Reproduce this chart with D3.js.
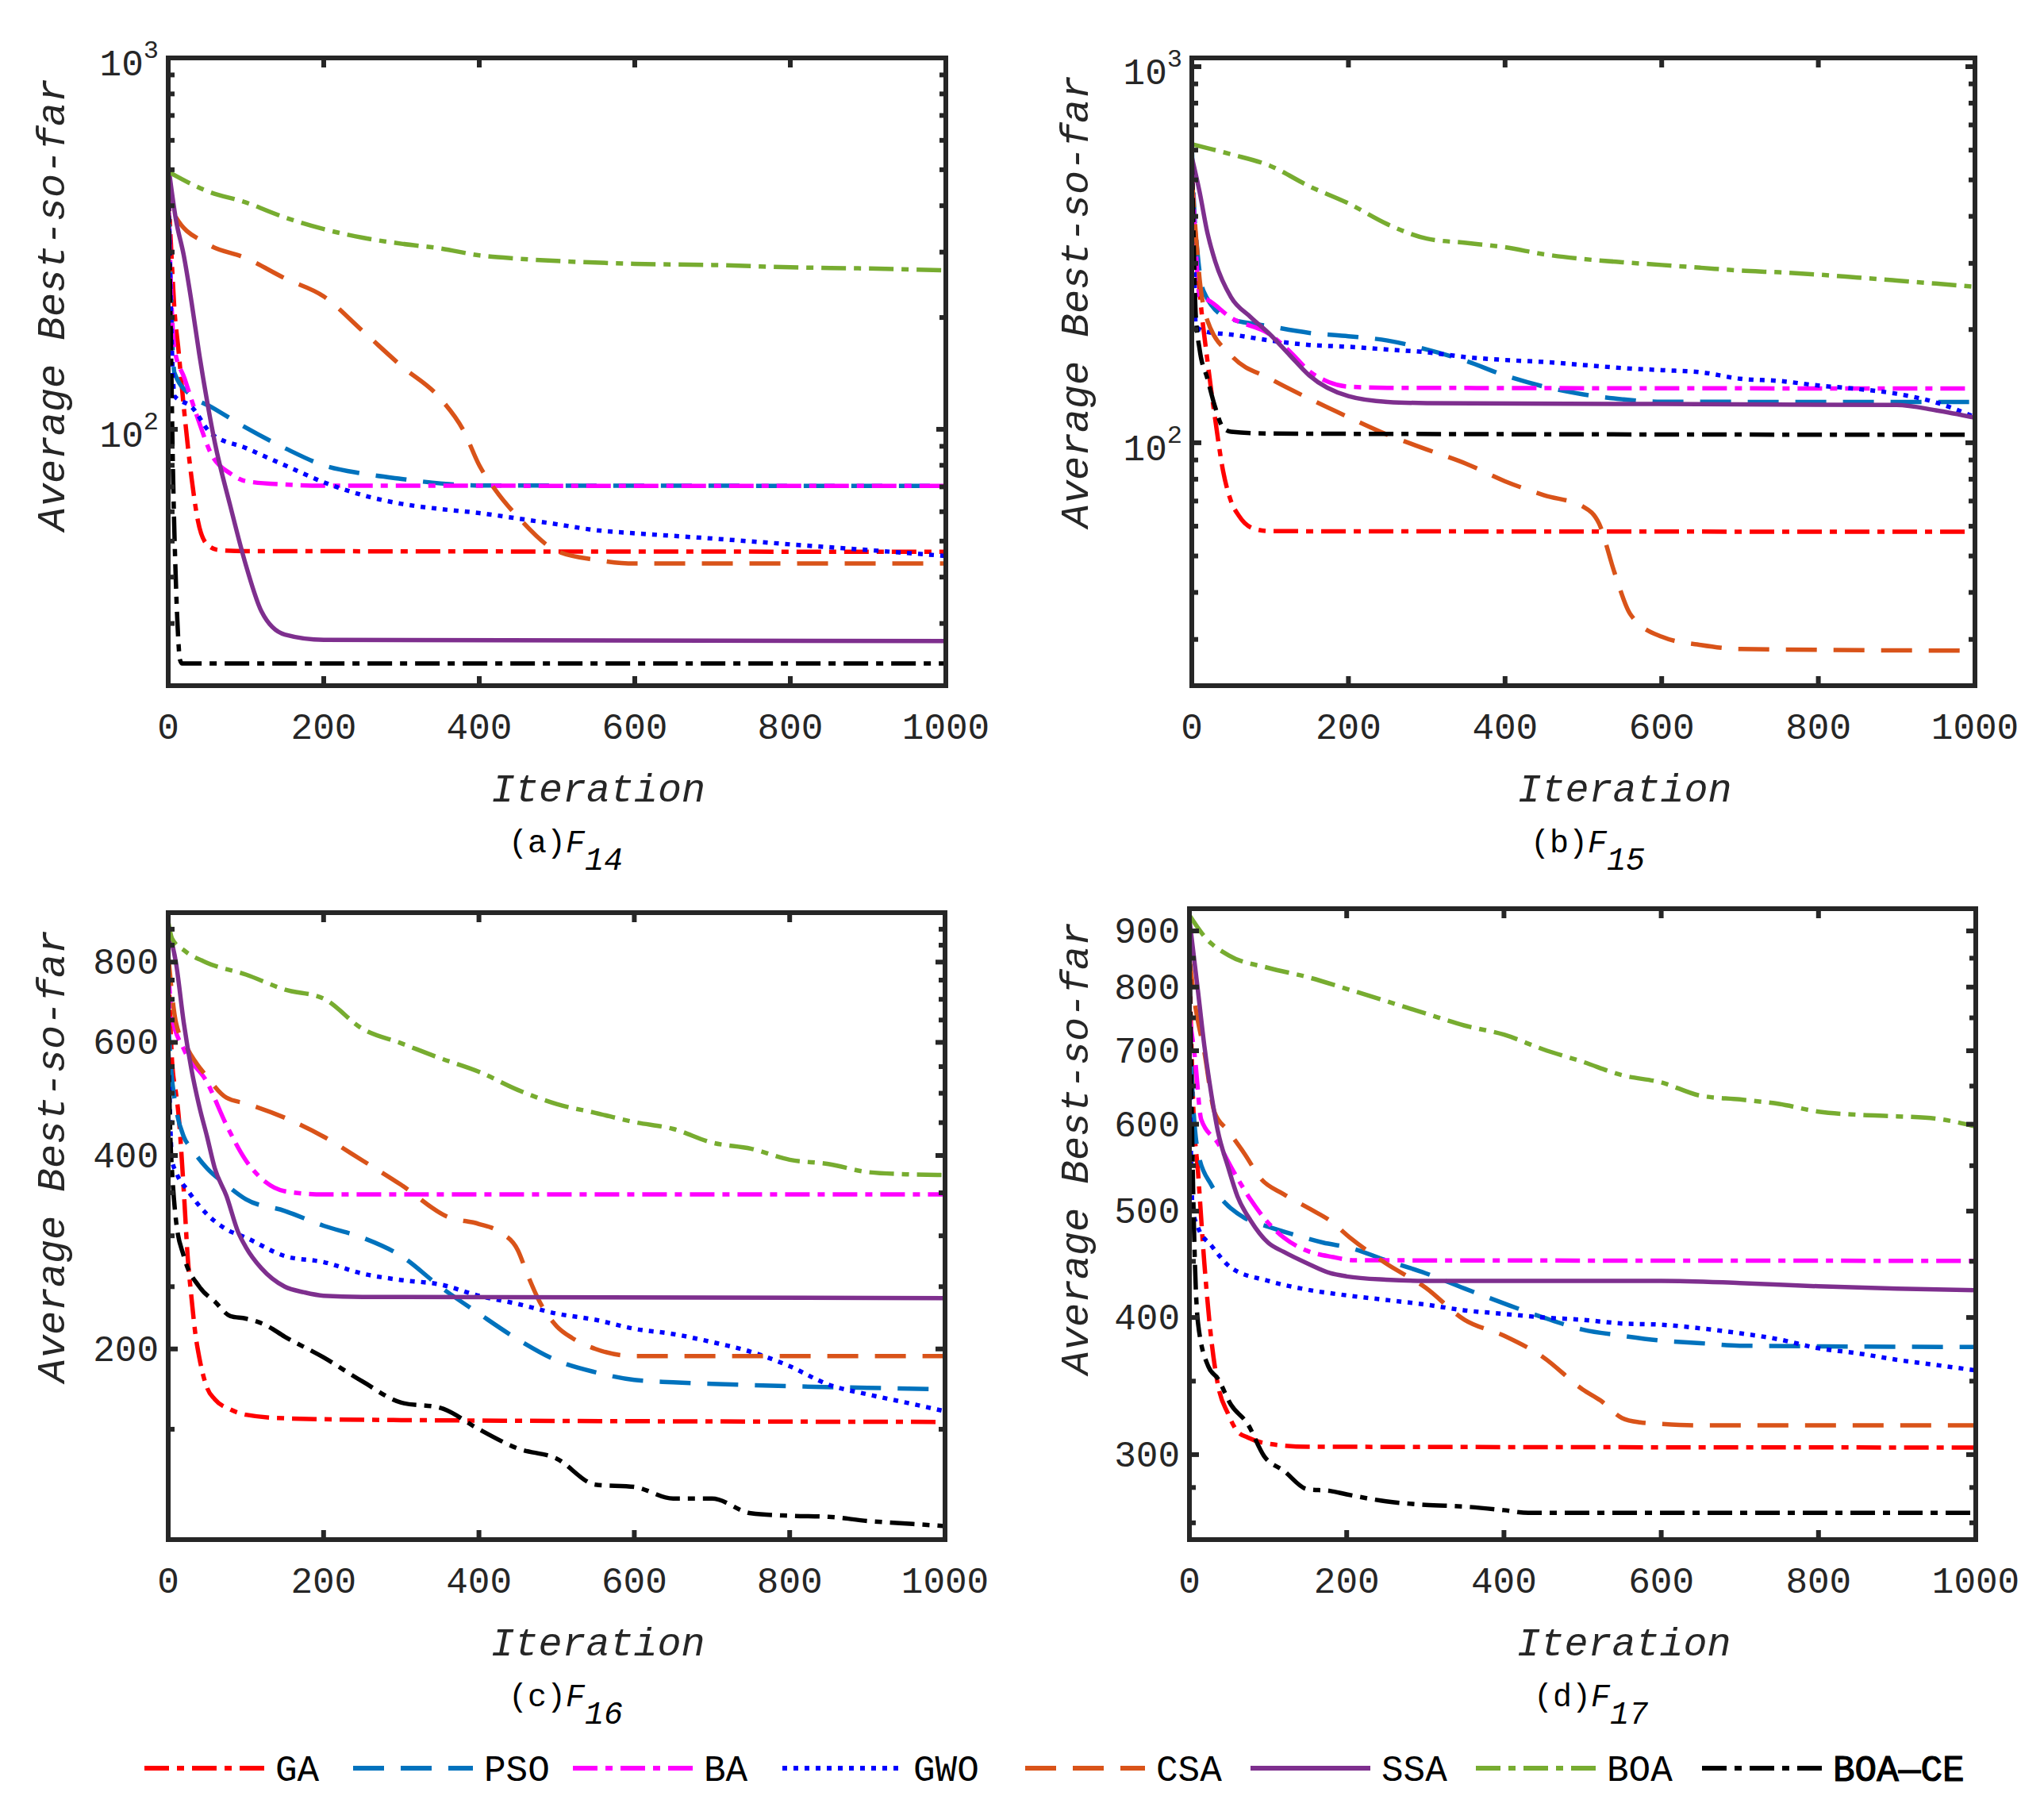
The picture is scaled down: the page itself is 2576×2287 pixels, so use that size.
<!DOCTYPE html>
<html>
<head>
<meta charset="utf-8">
<script src="https://cdn.jsdelivr.net/npm/d3@7"></script>
<style>
  body { margin: 0; background: #fff; }
  text { font-family: "Liberation Mono", "DejaVu Sans Mono", monospace; }
</style>
</head>
<body>
<svg id="chart" width="2576" height="2287"></svg>
<script>
// ---------- data (iteration, average best-so-far) ----------
var NAMES = ["GA", "PSO", "BA", "GWO", "CSA", "SSA", "BOA", "BOA\u2014CE"];
var X_TICKS = [0, 200, 400, 600, 800, 1000];

// F14
var F14_GA  = [[0,450],[4,300],[8,210],[13,165],[20,115],[30,74],[38,57],[50,49],[65,47.3],[100,47],[1000,46.8]];
var F14_PSO = [[0,480],[3,250],[8,142],[30,123],[55,115],[100,101],[150,89],[200,80],[250,76],[300,73.5],[350,71.5],[400,70.6],[1000,70.4]];
var F14_BA  = [[0,470],[3,260],[8,165],[21,137],[38,107],[55,86],[80,76],[100,72.5],[150,71],[200,70.5],[1000,70.4]];
var F14_GWO = [[0,490],[3,230],[8,123],[30,115],[55,97.5],[100,89],[150,80],[200,72],[250,66.5],[300,63],[350,61],[400,59.5],[450,57.5],[500,55.5],[550,53.5],[600,52.5],[700,50.8],[800,49],[900,47.3],[1000,45.6]];
var F14_CSA = [[0,500],[10,372],[50,316],[100,289],[150,255],[200,228],[250,184],[300,148],[350,121],[380,99],[400,80],[420,69],[450,58],[500,47],[550,44.5],[600,43.5],[1000,43.5]];
var F14_SSA = [[0,516],[10,366],[20,294],[30,220],[40,159],[50,119],[60,92],[80,62],[100,43],[120,32.3],[150,28],[200,27.1],[1000,26.9]];
var F14_BOA = [[0,494],[50,438],[100,408],[150,372],[200,346],[250,328],[300,316],[350,307],[400,294],[450,288],[500,284],[600,279],[700,277],[800,273],[900,271],[1000,268]];
var F14_BOACE = [[0,460],[3,200],[6,80],[10,38],[13,27],[15,24],[18,23.4],[1000,23.4]];

// F15
var F15_GA  = [[0,500],[5,350],[10,253],[20,165],[30,115],[40,84],[50,70],[60,64],[80,59],[100,58.2],[1000,58]];
var F15_PSO = [[0,620],[3,420],[7,325],[15,253],[45,215],[100,204],[150,196],[200,192],[250,187],[300,177],[350,165],[400,151],[450,141],[500,134.5],[550,130.5],[600,128.5],[1000,128.4]];
var F15_BA  = [[0,560],[5,330],[10,245],[20,240],[50,215],[100,194],[125,175],[150,155],[175,145],[200,141],[250,140],[1000,139.4]];
var F15_GWO = [[0,600],[3,300],[5,204],[20,197],[50,194],[100,187],[150,182],[200,180],[250,177],[300,174],[350,169],[400,166],[450,164],[500,161],[550,158],[600,156],[650,154],[700,148],[750,146],[800,142],[850,139],[900,135],[950,128],[1000,117]];
var F15_CSA = [[0,510],[5,362],[10,272],[20,211],[50,171],[100,148],[150,131],[200,117],[250,105],[300,96],[350,88],[400,79],[450,72.5],[500,67.6],[520,61],[540,45],[560,35],[600,30.5],[650,29],[700,28.3],[1000,28]];
var F15_SSA = [[0,575],[10,464],[20,361],[30,303],[50,244],[75,216],[100,194],[125,171],[150,151],[200,133],[250,128.4],[300,127.5],[900,126],[950,122],[1000,116.6]];
var F15_BOA = [[0,622],[50,585],[100,545],[150,481],[200,433],[250,381],[300,349],[350,340],[400,331],[450,317],[500,308],[550,302],[600,297],[650,292],[700,287],[750,284],[800,280],[850,275],[900,270],[950,265],[1000,260]];
var F15_BOACE = [[0,600],[3,302],[5,219],[10,177],[20,148],[30,124],[40,109.6],[50,107],[100,105.8],[1000,105]];

// F16
var F16_GA  = [[0,800],[5,560],[10,500],[13,467],[20,353],[25,279],[30,240],[35,211],[40,194],[50,174],[60,167],[80,161],[100,158],[150,156],[300,155],[1000,154]];
var F16_PSO = [[0,650],[3,560],[10,475],[20,428],[30,410],[50,382],[75,360],[100,342],[150,328],[200,311],[250,298],[300,279],[350,250],[400,227],[450,207],[500,192],[550,184],[600,179],[650,177.5],[700,176.5],[800,175],[900,174],[1000,173]];
var F16_BA  = [[0,780],[5,657],[20,586],[50,520],[75,446],[100,393],[125,364],[150,352],[200,348],[1000,348]];
var F16_GWO = [[0,600],[5,393],[10,377],[25,353],[50,324],[75,307],[100,298],[150,279],[200,273],[250,262],[300,256],[350,252],[400,242],[450,235],[500,227],[550,222],[600,215],[650,211],[700,205],[750,198],[800,188],[850,176],[900,170],[950,165],[1000,160]];
var F16_CSA = [[0,820],[10,644],[25,586],[50,530],[75,492],[100,482],[150,458],[200,428],[250,393],[300,360],[360,321],[400,313],[427,304],[450,285],[462,262],[478,237],[500,217],[520,208],[550,200],[600,195],[1000,195]];
var F16_SSA = [[0,900],[10,798],[20,644],[30,544],[40,477],[50,428],[60,382],[75,346],[90,304],[100,288],[120,267],[150,250],[175,245],[200,242],[250,241],[1000,240]];
var F16_BOA = [[0,925],[5,870],[20,835],[50,798],[100,765],[150,725],[200,702],[250,630],[300,598],[350,567],[400,540],[450,506],[500,481],[550,466],[600,451],[650,440],[700,419],[750,410],[800,394],[850,388],[900,377],[950,374],[1000,373]];
var F16_BOACE = [[0,600],[3,420],[5,377],[10,317],[20,279],[40,250],[60,237],[80,225],[100,223],[125,218],[150,209],[200,194],[250,178],[300,165],[350,162],[400,150],[450,140],[500,135],[550,123],[600,122],[650,117],[700,117],[750,111],[800,110],[850,109.6],[900,108],[950,107],[1000,106]];

// F17
var F17_GA  = [[0,840],[5,620],[11,542],[19,448],[28,381],[36,348],[49,327],[61,315],[74,311],[99,307],[150,305],[1000,304.5]];
var F17_PSO = [[0,750],[4,640],[11,565],[28,528],[45,509],[70,493],[100,484],[137,475],[170,468],[204,463],[250,451],[300,439],[350,425],[400,412],[450,400],[500,390],[550,385],[600,381],[650,379],[700,377],[1000,376]];
var F17_BA  = [[0,750],[7,690],[15,606],[36,577],[57,542],[78,512],[99,489],[120,473],[150,460],[183,454],[210,451],[1000,450.5]];
var F17_GWO = [[0,700],[4,503],[11,483],[28,465],[53,444],[100,432],[150,424],[200,419],[250,415],[300,411],[350,406],[400,403],[450,400],[500,398],[550,395],[600,394],[650,391],[700,387],[750,382],[800,375],[850,371],[900,366],[950,362],[1000,358]];
var F17_CSA = [[0,850],[7,773],[19,698],[32,615],[49,592],[70,564],[91,535],[120,518],[154,502],[179,490],[204,473],[250,448],[300,426],[350,398],[400,385],[450,368],[500,344],[523,336],[550,324],[573,321],[600,320],[650,319],[1000,319]];
var F17_SSA = [[0,922],[11,792],[19,707],[28,638],[36,592],[49,549],[61,516],[78,490],[100,468],[120,459],[150,448],[179,439],[200,436],[250,433],[300,432],[600,432],[700,430],[800,427],[900,425],[1000,423.5]];
var F17_BOA = [[0,930],[20,888],[50,855],[100,833],[150,817],[200,797],[250,777],[300,757],[350,738],[400,724],[450,702],[500,684],[550,665],[600,655],[650,637],[700,632],[750,626],[800,616],[850,612],[900,610],[950,607],[1000,597]];
var F17_BOACE = [[0,899],[3,615],[7,448],[11,395],[24,361],[36,352],[53,333],[74,320],[95,299],[120,290],[150,279],[179,278],[200,276],[250,272],[300,270],[350,269],[400,267],[431,265.5],[1000,265.5]];

// y ticks
var LOG_TICKS = [100, 1000];
var LOG_MINOR = [30, 40, 50, 60, 70, 80, 90, 200, 300, 400, 500, 600, 700, 800, 900];
var F16_TICKS = [200, 400, 600, 800];
var F16_MINOR = [150, 250, 300, 350, 450, 500, 550, 650, 700, 750, 850, 900];
var F17_TICKS = [300, 400, 500, 600, 700, 800, 900];
var F17_MINOR = [260, 280, 350, 450, 550, 650, 750, 850];

// ---------- styles ----------
var COLORS = ["#FF0000", "#0072BD", "#FF00FF", "#0000FF", "#D95319", "#7E2F8E", "#77AC30", "#000000"];
var DASHES = ["31,10,9,10", "39,21", "31,10,9,10", "6,8", "39,21", null, "31,10,9,10", "31,10,9,10"];
var AXIS = "#262626";

var svg = d3.select("#chart");

var panels = [
    { id: "a", num: "14", series: [F14_GA, F14_PSO, F14_BA, F14_GWO, F14_CSA, F14_SSA, F14_BOA, F14_BOACE],
      x0: 212, x1: 1192, y0: 73, y1: 864, domain: [20.4, 1000], ticks: LOG_TICKS, minor: LOG_MINOR, pow: true,
      ylabX: 64, ylabY: 384, capX: 713 },
    { id: "b", num: "15", series: [F15_GA, F15_PSO, F15_BA, F15_GWO, F15_CSA, F15_SSA, F15_BOA, F15_BOACE],
      x0: 1502, x1: 2489, y0: 73, y1: 864, domain: [22.6, 1055], ticks: LOG_TICKS, minor: LOG_MINOR, pow: true,
      ylabX: 1354, ylabY: 380, capX: 2001 },
    { id: "c", num: "16", series: [F16_GA, F16_PSO, F16_BA, F16_GWO, F16_CSA, F16_SSA, F16_BOA, F16_BOACE],
      x0: 212, x1: 1191, y0: 1150, y1: 1940, domain: [101, 955], ticks: F16_TICKS, minor: F16_MINOR, pow: false,
      ylabX: 64, ylabY: 1457, capX: 713 },
    { id: "d", num: "17", series: [F17_GA, F17_PSO, F17_BA, F17_GWO, F17_CSA, F17_SSA, F17_BOA, F17_BOACE],
      x0: 1499, x1: 2490, y0: 1145, y1: 1940, domain: [251, 943], ticks: F17_TICKS, minor: F17_MINOR, pow: false,
      ylabX: 1354, ylabY: 1447, capX: 2005 }
];

panels.forEach(function(p) {
    var x = d3.scaleLinear().domain([0, 1000]).range([p.x0, p.x1]);
    var y = d3.scaleLog().domain(p.domain).range([p.y1, p.y0]);
    var g = svg.append("g").attr("class", "panel-" + p.id);

    g.append("clipPath").attr("id", "clip-" + p.id)
        .append("rect")
        .attr("x", p.x0).attr("y", p.y0)
        .attr("width", p.x1 - p.x0).attr("height", p.y1 - p.y0);

    var line = d3.line()
        .x(function(d) { return x(d[0]); })
        .y(function(d) { return y(d[1]); })
        .curve(d3.curveMonotoneX);

    g.append("g").attr("clip-path", "url(#clip-" + p.id + ")")
        .selectAll("path")
        .data(p.series)
        .enter().append("path")
            .attr("d", line)
            .attr("fill", "none")
            .attr("stroke", function(d, i) { return COLORS[i]; })
            .attr("stroke-width", 5.5)
            .attr("stroke-dasharray", function(d, i) { return DASHES[i]; });

    // x ticks (bottom and top, inward)
    var xt = g.append("g");
    X_TICKS.forEach(function(v) {
        if (v > 0 && v < 1000) {
            xt.append("line").attr("x1", x(v)).attr("x2", x(v)).attr("y1", p.y1).attr("y2", p.y1 - 12);
            xt.append("line").attr("x1", x(v)).attr("x2", x(v)).attr("y1", p.y0).attr("y2", p.y0 + 12);
        }
        g.append("text")
            .attr("x", x(v)).attr("y", p.y1 + 67)
            .attr("text-anchor", "middle")
            .attr("font-size", 46)
            .attr("fill", AXIS)
            .text(v);
    });

    // y ticks (left and right, inward)
    p.ticks.forEach(function(v) {
        if (y(v) > p.y0 + 2) {
            xt.append("line").attr("x1", p.x0).attr("x2", p.x0 + 12).attr("y1", y(v)).attr("y2", y(v));
            xt.append("line").attr("x1", p.x1).attr("x2", p.x1 - 12).attr("y1", y(v)).attr("y2", y(v));
        }
        var t = g.append("text")
            .attr("x", p.x0 - 12)
            .attr("text-anchor", "end")
            .attr("font-size", 46)
            .attr("fill", AXIS);
        if (p.pow) {
            t.attr("y", y(v) + 22);
            t.append("tspan").text("10");
            t.append("tspan").attr("dy", -22).attr("font-size", 32).text(String(Math.round(Math.log10(v))));
        } else {
            t.attr("y", y(v) + 15).text(v);
        }
    });
    p.minor.forEach(function(v) {
        if (v <= p.domain[0] || v >= p.domain[1]) return;
        xt.append("line").attr("x1", p.x0).attr("x2", p.x0 + 8).attr("y1", y(v)).attr("y2", y(v));
        xt.append("line").attr("x1", p.x1).attr("x2", p.x1 - 8).attr("y1", y(v)).attr("y2", y(v));
    });
    xt.selectAll("line").attr("stroke", AXIS).attr("stroke-width", 6);

    // box
    g.append("rect")
        .attr("x", p.x0).attr("y", p.y0)
        .attr("width", p.x1 - p.x0).attr("height", p.y1 - p.y0)
        .attr("fill", "none")
        .attr("stroke", AXIS)
        .attr("stroke-width", 6);

    // labels
    g.append("text")
        .attr("x", (p.x0 + p.x1) / 2 + 52).attr("y", p.y1 + 146)
        .attr("text-anchor", "middle")
        .attr("font-size", 50)
        .attr("font-style", "italic")
        .attr("fill", AXIS)
        .text("Iteration");

    g.append("text")
        .attr("transform", "translate(" + (p.ylabX + 17) + "," + p.ylabY + ") rotate(-90)")
        .attr("text-anchor", "middle")
        .attr("font-size", 50)
        .attr("font-style", "italic")
        .attr("fill", AXIS)
        .text("Average Best-so-far");

    var cap = g.append("text")
        .attr("x", p.capX).attr("y", p.y1 + 210)
        .attr("text-anchor", "middle")
        .attr("font-size", 40)
        .attr("fill", "#000");
    cap.append("tspan").text("(" + p.id + ")");
    cap.append("tspan").attr("font-style", "italic").text("F");
    cap.append("tspan").attr("font-style", "italic").attr("dy", 22).text(p.num);
});

// ---------- legend ----------
var LEG_X = [182, 445, 722, 986, 1292, 1576, 1860, 2145];
var legend = svg.append("g").attr("class", "legend").attr("transform", "translate(0,2228)");
NAMES.forEach(function(name, i) {
    legend.append("line")
        .attr("x1", LEG_X[i]).attr("x2", LEG_X[i] + 151)
        .attr("y1", 0).attr("y2", 0)
        .attr("stroke", COLORS[i])
        .attr("stroke-width", 6)
        .attr("stroke-dasharray", DASHES[i]);
    legend.append("text")
        .attr("x", LEG_X[i] + 165).attr("y", 16)
        .attr("font-size", 46)
        .attr("fill", "#000")
        .attr("stroke", i == 7 ? "#000" : "none")
        .attr("stroke-width", i == 7 ? 1.2 : 0)
        .text(name);
});
</script>
</body>
</html>
